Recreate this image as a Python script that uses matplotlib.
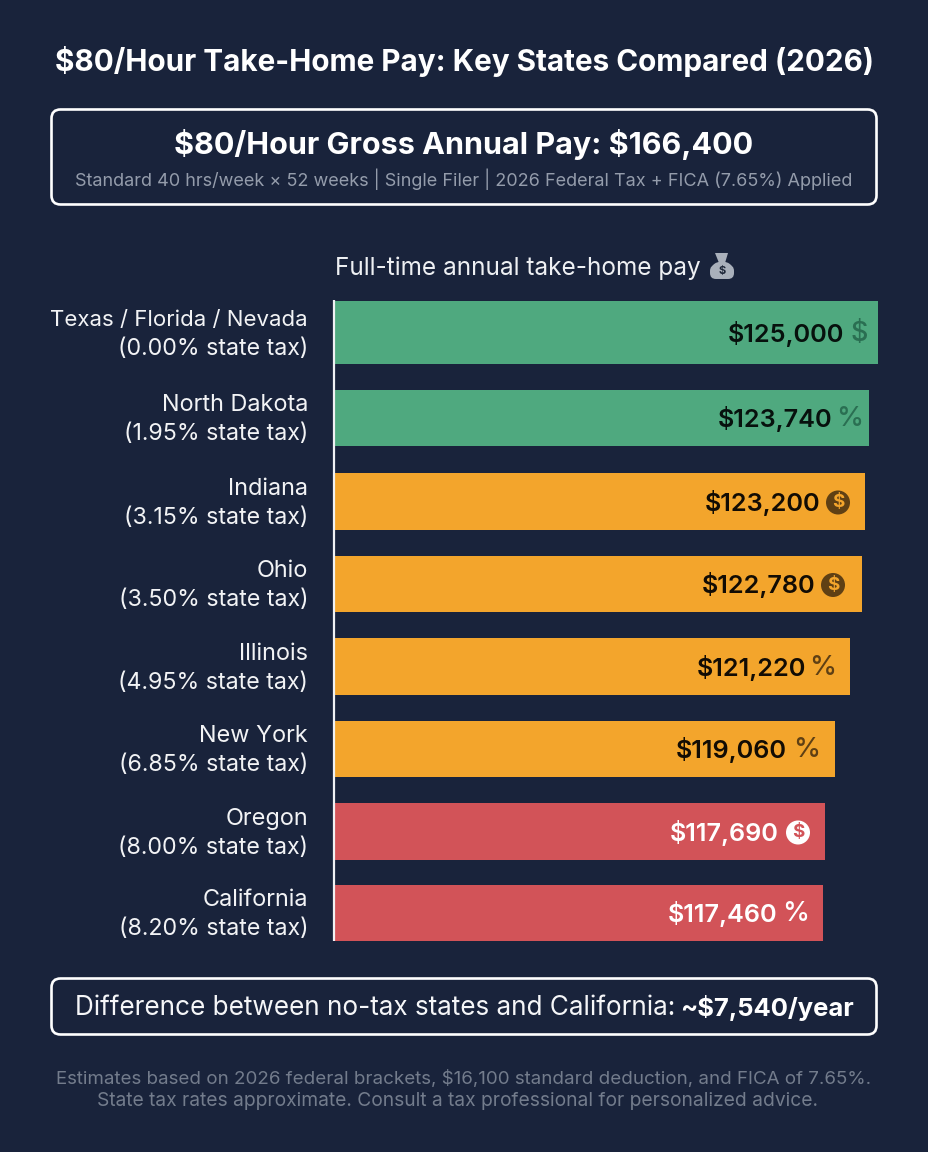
import matplotlib
matplotlib.use('Agg')
import matplotlib.pyplot as plt
from matplotlib.patches import FancyBboxPatch, Circle, Polygon, Ellipse

plt.rcParams['font.family'] = ['Inter', 'DejaVu Sans']

# Chart data
states = ['Texas / Florida / Nevada', 'North Dakota', 'Indiana', 'Ohio',
          'Illinois', 'New York', 'Oregon', 'California']
tax_rates = [0.00, 1.95, 3.15, 3.50, 4.95, 6.85, 8.00, 8.20]
take_home = [125000, 123740, 123200, 122780, 121220, 119060, 117690, 117460]
icons = ['$', '%', 'coin', 'coin', '%', '%', 'coin', '%']
groups = ['low', 'low', 'mid', 'mid', 'mid', 'mid', 'high', 'high']

BG = '#19233b'
WHITE = '#ffffff'
GREY = '#949cab'
FOOT = '#737c8c'
colors = {'low': '#4fa97f', 'mid': '#f3a52c', 'high': '#d25358'}
text_colors = {'low': '#07110d', 'mid': '#120c04', 'high': '#ffffff'}
icon_colors = {'low': '#2a6f52', 'mid': '#5f4014', 'high': '#ffffff'}

# Bar layout in pixels (top, bottom)
bar_spans = [(301, 364), (390, 446), (473, 530), (556, 612),
             (638, 695), (721, 777), (803, 860), (885, 941)]
icon_x = [859, 850, 838, 833, 823, 807, 798, 796]
value_right = [844, 832, 820, 815, 806, 787, 779, 777]

W, H = 928, 1152
fig = plt.figure(figsize=((W + 0.01) / 100, (H + 0.01) / 100), dpi=100, facecolor=BG)

# Bar panel: x is dollars, y is pixels from the top of the figure
bar_left, bar_right = 334, 878
x_per_px = (take_home[0] - take_home[-1]) / 55
ax = fig.add_axes([bar_left / W, 0, (bar_right - bar_left) / W, 1])
ax.set_xlim(take_home[0] - (bar_right - bar_left) * x_per_px, take_home[0])
ax.set_ylim(H, 0)
ax.axis('off')
ax.set_zorder(1)

x0 = ax.get_xlim()[0]
for i, value in enumerate(take_home):
    top, bottom = bar_spans[i]
    ax.barh((top + bottom) / 2, value - x0, left=x0, height=bottom - top,
            color=colors[groups[i]], linewidth=0)

# Full-figure layer in pixel coordinates for boxes and text, above the bars
bg = fig.add_axes([0, 0, 1, 1])
bg.set_xlim(0, W)
bg.set_ylim(H, 0)
bg.axis('off')
bg.set_zorder(2)

# Baseline
bg.plot([334, 334], [300, 941], color='#f0f1f4', lw=1.6, zorder=5, solid_capstyle='butt')


def rounded_box(x, y, w, h):
    bg.add_patch(FancyBboxPatch((x, y), w, h, boxstyle='round,pad=0,rounding_size=9',
                                fc='none', ec=WHITE, lw=1.9))


bg.text(464, 61, '$80/Hour Take-Home Pay: Key States Compared (2026)', color=WHITE,
        fontsize=21.4, fontweight='bold', ha='center', va='center', parse_math=False)

rounded_box(51.5, 109.5, 825, 95)
bg.text(464, 144, '$80/Hour Gross Annual Pay: $166,400', color=WHITE, fontsize=22,
        fontweight='bold', ha='center', va='center', parse_math=False)
bg.text(464, 179, 'Standard 40 hrs/week × 52 weeks | Single Filer | 2026 Federal Tax + FICA (7.65%) Applied',
        color=GREY, fontsize=13, ha='center', va='center', parse_math=False)

bg.text(335, 268, 'Full-time annual take-home pay', color='#eef0f3', fontsize=17.5,
        ha='left', va='center')

# Money bag icon next to the axis title
bag = '#a9b0bb'
bg.add_patch(FancyBboxPatch((710, 265), 24, 14, boxstyle='round,pad=0,rounding_size=6', fc=bag, ec='none'))
bg.add_patch(Ellipse((722, 270), 22, 17, fc=bag, ec='none'))
bg.add_patch(Polygon([[715, 253], [728, 253], [725, 263], [719, 263]], fc=bag, ec='none'))
bg.text(722, 271, '$', color='#1d2638', fontsize=8, fontweight='bold', ha='center',
        va='center', parse_math=False)

# State labels, values and the small icons inside the bars
for i, state in enumerate(states):
    top, bottom = bar_spans[i]
    mid = (top + bottom) / 2
    name_size = 16 if '/' in state else 16.9
    bg.text(308, mid - 13, state, color='#f2f3f5', fontsize=name_size, ha='right', va='center')
    bg.text(308, mid + 16, f'({tax_rates[i]:.2f}% state tax)', color='#f2f3f5', fontsize=16.7,
            ha='right', va='center')

    group = groups[i]
    bg.text(value_right[i], mid + 1, f'${take_home[i]:,}', color=text_colors[group], fontsize=18.2,
            fontweight='semibold', ha='right', va='center', zorder=6, parse_math=False)
    if icons[i] == 'coin':
        bg.add_patch(Circle((icon_x[i], mid + 1), 12, fc=icon_colors[group], ec='none', zorder=6))
        bg.text(icon_x[i], mid + 1, '$', color=colors[group], fontsize=13.5, fontweight='bold',
                ha='center', va='center', zorder=7, parse_math=False)
    else:
        bg.text(icon_x[i], mid + 1, icons[i], color=icon_colors[group], fontsize=19.5,
                fontweight='medium', ha='center', va='center', zorder=6, parse_math=False)

rounded_box(51.5, 978.5, 825, 56)
bg.text(75, 1008, 'Difference between no-tax states and California:', color='#f5f6f8',
        fontsize=18.8, ha='left', va='center', parse_math=False)
bg.text(854, 1008, '~$7,540/year', color=WHITE, fontsize=18.4, fontweight='bold', ha='right',
        va='center', parse_math=False)

bg.text(464, 1079, 'Estimates based on 2026 federal brackets, $16,100 standard deduction, and FICA of 7.65%.',
        color=FOOT, fontsize=13.5, ha='center', va='center', parse_math=False)
bg.text(457.5, 1101, 'State tax rates approximate. Consult a tax professional for personalized advice.',
        color=FOOT, fontsize=13.85, ha='center', va='center', parse_math=False)

fig.savefig('out.png', dpi=100, facecolor=BG)
